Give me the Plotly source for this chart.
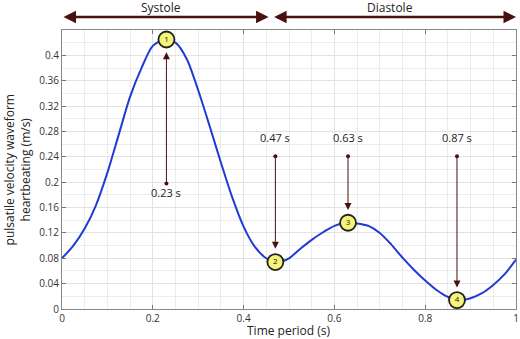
import plotly.graph_objects as go

# Waveform
time_s = [0.000, 0.025, 0.050, 0.075, 0.100, 0.125, 0.150, 0.175, 0.200, 0.225,
          0.250, 0.275, 0.300, 0.325, 0.350, 0.375, 0.400, 0.425, 0.450, 0.475,
          0.500, 0.525, 0.550, 0.575, 0.600, 0.625, 0.650, 0.675, 0.700, 0.725,
          0.750, 0.775, 0.800, 0.825, 0.850, 0.875, 0.900, 0.925, 0.950, 0.975, 1.000]
velocity = [0.080, 0.100, 0.127, 0.164, 0.215, 0.275, 0.335, 0.380, 0.415, 0.425,
            0.420, 0.394, 0.345, 0.289, 0.231, 0.176, 0.130, 0.098, 0.080, 0.074,
            0.080, 0.095, 0.109, 0.121, 0.131, 0.136, 0.135, 0.131, 0.120, 0.102,
            0.081, 0.062, 0.045, 0.030, 0.019, 0.014, 0.017, 0.025, 0.038, 0.055, 0.078]

# Key points
key_t = [0.23, 0.47, 0.63, 0.87]
key_v = [0.425, 0.074, 0.136, 0.014]
key_labels = ["1", "2", "3", "4"]
key_text = ["0.23 s", "0.47 s", "0.63 s", "0.87 s"]
arrow_tail = [0.198, 0.241, 0.241, 0.241]
arrow_head = [0.405, 0.095, 0.156, 0.034]
text_y = [0.183, 0.270, 0.270, 0.270]

# Phases
phase_names = ["Systole", "Diastole"]
phase_start = [0.0, 0.464]
phase_end = [0.455, 1.0]

x_ticks = [0, 0.2, 0.4, 0.6, 0.8, 1.0]
x_tick_text = ["0", "0.2", "0.4", "0.6", "0.8", "1"]
y_ticks = [0, 0.04, 0.08, 0.12, 0.16, 0.2, 0.24, 0.28, 0.32, 0.36, 0.4]
y_tick_text = ["0", "0.04", "0.08", "0.12", "0.16", "0.2", "0.24", "0.28", "0.32", "0.36", "0.4"]

FONT = "Open Sans"
ARROW = "#4a0f0f"
PX_PER_X = 454.0

fig = go.Figure()
fig.add_trace(go.Scatter(x=time_s, y=velocity, mode="lines", line=dict(color="#1f3bd4", width=2, shape="spline", smoothing=0.8),
                         hoverinfo="skip", showlegend=False))
fig.add_trace(go.Scatter(x=key_t, y=arrow_tail, mode="markers", marker=dict(color=ARROW, size=4),
                         showlegend=False, hoverinfo="skip"))
fig.add_trace(go.Scatter(x=key_t, y=key_v, mode="markers+text", text=key_labels, textposition="middle center",
                         textfont=dict(family=FONT, size=8, color="#111"),
                         marker=dict(color="#f6f37a", size=16, line=dict(color="#222", width=1.8)),
                         showlegend=False, hoverinfo="skip", cliponaxis=False))

annotations = []
for t, tail, head, lab, ty in zip(key_t, arrow_tail, arrow_head, key_text, text_y):
    annotations.append(dict(x=t, y=head, ax=t, ay=tail, xref="x", yref="y", axref="x", ayref="y",
                            showarrow=True, arrowhead=2, arrowsize=1.4, arrowwidth=1, arrowcolor=ARROW, text=""))
    annotations.append(dict(x=t, y=ty, xref="x", yref="y", text=lab, showarrow=False,
                            font=dict(family=FONT, size=11, color="#222")))

for name, s, e in zip(phase_names, phase_start, phase_end):
    annotations.append(dict(x=e, y=1.047, xref="x", yref="paper", ax=-(e - s) * PX_PER_X, ay=0,
                            showarrow=True, arrowhead=2, startarrowhead=2, arrowside="end+start",
                            arrowsize=1.0, startarrowsize=1.0, arrowwidth=2.5, arrowcolor=ARROW, text=""))
    annotations.append(dict(x=(s + e) / 2 - 0.01, y=1.079, xref="x", yref="paper", text=name, showarrow=False,
                            font=dict(family=FONT, size=12, color="#222"), yanchor="middle"))

annotations.append(dict(x=0.5, y=-0.076, xref="paper", yref="paper", text="Time period (s)", showarrow=False,
                        font=dict(family=FONT, size=12, color="#222"), yanchor="middle"))
annotations.append(dict(x=-0.097, y=0.5, xref="paper", yref="paper", text="pulsatile velocity waveform<br>heartbeating (m/s)",
                        showarrow=False, textangle=-90, font=dict(family=FONT, size=12, color="#222"),
                        xanchor="center", yanchor="middle"))

fig.update_layout(
    width=520, height=339,
    margin=dict(l=62, r=4, t=30, b=30),
    paper_bgcolor="white", plot_bgcolor="white",
    font=dict(family=FONT, size=10, color="#333"),
    annotations=annotations,
    xaxis=dict(range=[0, 1], tickvals=x_ticks, ticktext=x_tick_text, ticks="inside", ticklen=4,
               tickcolor="#777", showline=True, linecolor="#888", linewidth=1, mirror="ticks",
               showgrid=True, gridcolor="#e2e2e2", gridwidth=1, zeroline=False, automargin=False,
               minor=dict(dtick=0.05, showgrid=True, gridcolor="#ececec", ticks=""),
               tickfont=dict(family=FONT, size=10, color="#333")),
    yaxis=dict(range=[0, 0.44], tickvals=y_ticks, ticktext=y_tick_text, ticks="inside", ticklen=4,
               tickcolor="#777", showline=True, linecolor="#888", linewidth=1, mirror="ticks",
               showgrid=True, gridcolor="#e2e2e2", gridwidth=1, zeroline=False, automargin=False,
               minor=dict(dtick=0.02, showgrid=True, gridcolor="#ececec", ticks=""),
               tickfont=dict(family=FONT, size=10, color="#333")),
)

fig.write_html("out.html", config={"displayModeBar": False},
               post_script="document.body.style.margin='0';document.body.style.overflow='hidden';")
